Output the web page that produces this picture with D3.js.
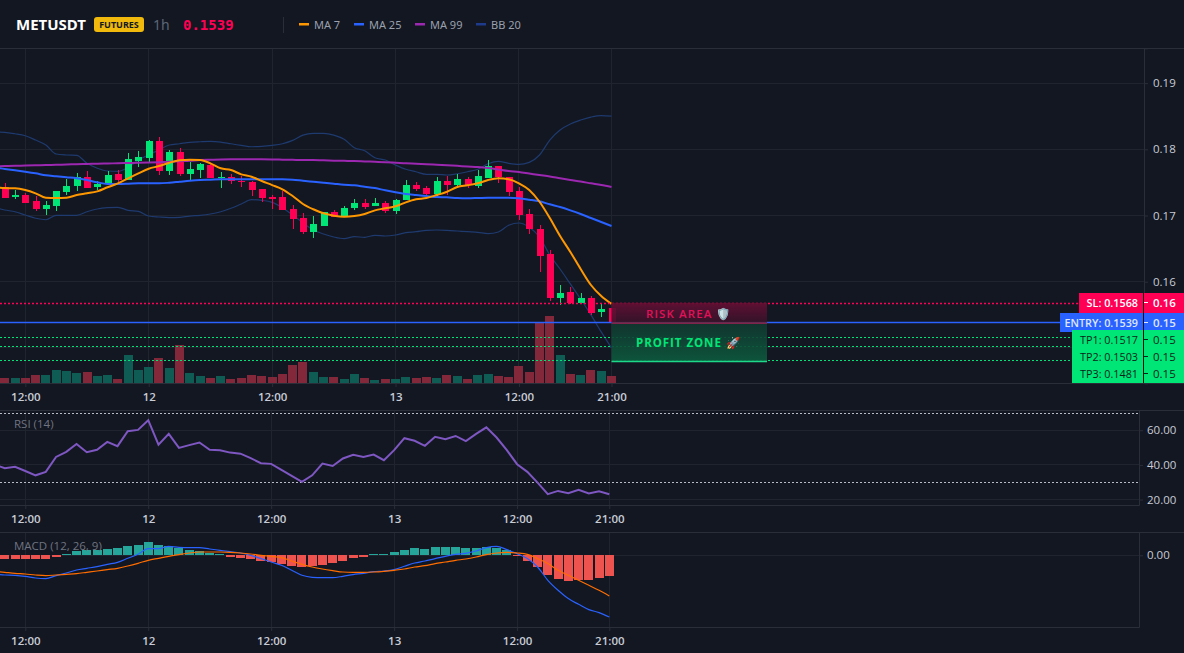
<!DOCTYPE html>
<html>
<head>
<meta charset="utf-8">
<script src="https://cdn.jsdelivr.net/npm/d3@7"></script>
<style>
  html, body { margin: 0; padding: 0; background: #131722; overflow: hidden; }
  svg { display: block; font-family: 'Noto Sans', sans-serif; }
</style>
</head>
<body>
<script>
// hourly candles (the first one sits just off the left edge)
const open = [.17420,.17426,.17279,.17309,.17219,.17098,.17143,.17355,.17445,.17581,.17430,.17476,.17627,.17536,.17823,.17868,.18125,.17672,.17959,.17627,.17687,.17762,.17566,.17581,.17521,.17506,.17400,.17279,.17279,.17098,.16962,.16751,.16841,.17053,.16992,.17113,.17189,.17143,.17189,.17068,.17234,.17460,.17415,.17325,.17521,.17460,.17551,.17445,.17566,.17747,.17581,.17370,.17023,.16796,.16419,.15754,.15845,.15679,.15754,.15543,.15603];
const high = [.17520,.17495,.17385,.17344,.17294,.17219,.17370,.17551,.17642,.17672,.17521,.17672,.17687,.17944,.17974,.18140,.18185,.17989,.18019,.17808,.17793,.17778,.17657,.17627,.17596,.17521,.17400,.17309,.17370,.17159,.17038,.16992,.17053,.17083,.17143,.17249,.17249,.17264,.17219,.17249,.17536,.17506,.17445,.17581,.17596,.17627,.17581,.17687,.17838,.17747,.17581,.17430,.17098,.16857,.16479,.15950,.15920,.15830,.15784,.15679,.15603];
const low = [.17380,.17264,.17249,.17189,.17068,.17008,.17068,.17309,.17370,.17415,.17385,.17460,.17506,.17536,.17732,.17808,.17612,.17612,.17596,.17536,.17566,.17566,.17415,.17476,.17430,.17294,.17204,.17098,.17083,.16796,.16721,.16660,.16841,.16977,.16992,.17083,.17098,.17143,.17038,.17023,.17234,.17370,.17294,.17294,.17309,.17445,.17415,.17415,.17566,.17491,.17294,.16932,.16721,.16147,.15709,.15649,.15664,.15679,.15498,.15467,.15390];
const close = [.17440,.17264,.17309,.17189,.17098,.17159,.17370,.17445,.17581,.17415,.17476,.17612,.17536,.17853,.17883,.18125,.17672,.17959,.17627,.17702,.17778,.17566,.17581,.17521,.17506,.17385,.17264,.17249,.17083,.16947,.16751,.16872,.17053,.16977,.17113,.17189,.17128,.17189,.17068,.17234,.17460,.17400,.17325,.17521,.17460,.17551,.17460,.17596,.17747,.17581,.17355,.17008,.16796,.16388,.15754,.15830,.15679,.15754,.15528,.15588,.15390];
const volume = [53,53,53,53,83,83,133,123,103,113,73,83,43,283,133,163,253,153,383,103,73,53,73,43,53,83,73,63,93,183,213,113,63,63,43,93,53,33,43,43,63,53,63,53,83,73,43,83,93,73,63,173,113,610,670,280,90,80,130,120,70];

const ma7 = [.17423,.17415,.17411,.17385,.17335,.17269,.17264,.17269,.17309,.17335,.17365,.17426,.17486,.17562,.17637,.17707,.17747,.17797,.17833,.17842,.17838,.17788,.17713,.17687,.17622,.17586,.17521,.17460,.17396,.17294,.17174,.17094,.17033,.16997,.16982,.16992,.17023,.17078,.17109,.17139,.17199,.17245,.17264,.17309,.17359,.17430,.17456,.17486,.17536,.17562,.17547,.17486,.17385,.17208,.16962,.16690,.16449,.16192,.15950,.15784,.15664];
const ma25 = [.17725,.17702,.17682,.17661,.17637,.17607,.17592,.17577,.17562,.17536,.17501,.17476,.17476,.17480,.17486,.17486,.17486,.17495,.17510,.17525,.17536,.17541,.17547,.17547,.17547,.17547,.17547,.17547,.17547,.17541,.17525,.17510,.17495,.17480,.17465,.17456,.17435,.17415,.17380,.17350,.17325,.17309,.17294,.17279,.17275,.17264,.17260,.17264,.17269,.17269,.17269,.17260,.17239,.17214,.17169,.17128,.17078,.17023,.16962,.16902,.16841];
const ma99 = [.17744,.17747,.17750,.17755,.17759,.17762,.17767,.17770,.17775,.17778,.17782,.17785,.17790,.17793,.17796,.17800,.17805,.17812,.17820,.17827,.17838,.17842,.17846,.17849,.17850,.17850,.17849,.17847,.17844,.17841,.17838,.17838,.17833,.17829,.17826,.17823,.17817,.17811,.17805,.17797,.17788,.17782,.17775,.17767,.17759,.17750,.17740,.17732,.17717,.17694,.17672,.17657,.17634,.17611,.17589,.17562,.17536,.17513,.17486,.17460,.17430];
const bbUpper = [.18261,.18256,.18235,.18205,.18140,.18065,.17929,.17914,.17909,.17788,.17713,.17672,.17667,.17728,.17838,.17918,.17989,.18065,.18084,.18105,.18114,.18120,.18110,.18084,.18060,.18039,.18045,.18060,.18084,.18135,.18215,.18241,.18241,.18215,.18151,.18024,.17978,.17873,.17838,.17762,.17698,.17661,.17622,.17622,.17612,.17631,.17661,.17698,.17782,.17818,.17788,.17773,.17803,.17914,.18140,.18291,.18382,.18442,.18487,.18510,.18502];
const bbLower = [.17121,.17083,.17057,.17007,.16958,.16936,.17003,.17003,.17003,.17057,.17098,.17118,.17124,.17078,.17063,.16992,.16977,.16967,.16973,.16992,.17003,.17023,.17057,.17109,.17174,.17239,.17229,.17199,.17118,.17007,.16891,.16781,.16721,.16675,.16650,.16680,.16671,.16701,.16690,.16705,.16740,.16755,.16776,.16781,.16776,.16766,.16755,.16746,.16725,.16751,.16852,.16887,.16822,.16675,.16404,.16192,.15966,.15739,.15498,.15241,.14999];

const rsi = [40.2,38.1,38.9,36.5,34.0,36.0,44.6,47.5,52.1,47.3,48.7,53.3,50.8,59.4,60.2,65.8,51.7,57.9,49.8,51.4,52.9,48.7,48.5,47.1,46.5,43.9,41.0,40.6,37.1,33.7,30.2,34.0,40.8,39.4,43.7,45.8,44.6,46.0,42.7,48.5,55.4,53.9,51.0,56.2,54.8,56.7,53.7,57.9,61.7,55.8,48.5,40.4,36.0,29.8,23.1,25.0,23.7,25.6,23.5,24.8,23.1];

const macdHist = [-.0004,-.0004,-.0004,-.0004,-.0004,-.0004,-.0002,.00017,.0004,.0005,.0005,.00063,.0007,.0009,.00103,.0013,.00103,.00093,.0007,.0005,.0004,.0002,.0001,-.0002,-.0003,-.0004,-.0006,-.0007,-.0009,-.0011,-.00115,-.0011,-.001,-.0008,-.0006,-.0003,-.0002,.00013,.00013,.0003,.0005,.0007,.00063,.0008,.0008,.0008,.0007,.0007,.0008,.0007,.0005,-.0001,-.0006,-.0012,-.002,-.0024,-.0026,-.0025,-.0025,-.0023,-.0021];
const macdLine = [-.0019,-.00197,-.002,-.0021,-.00227,-.00233,-.00203,-.00177,-.00147,-.0013,-.00113,-.0009,-.0007,-.0003,.0001,.00067,.00067,.0009,.0008,.00077,.00077,.00063,.0005,.00037,.00023,0,-.00033,-.00067,-.001,-.0015,-.002,-.0022,-.00223,-.00223,-.0021,-.00193,-.0018,-.00163,-.00157,-.00143,-.0011,-.00077,-.00057,-.00033,-.0001,.0001,.0002,.00043,.00077,.0009,.00057,.00017,-.00033,-.00117,-.0025,-.0035,-.00433,-.0049,-.00543,-.00573,-.00617];
const macdSignal = [-.0016,-.0017,-.0018,-.00187,-.00197,-.00203,-.00197,-.0019,-.00183,-.0017,-.00157,-.00143,-.0013,-.00107,-.0008,-.0005,-.0003,-.0001,.00007,.00023,.00033,.00033,.00033,.0003,.00023,.00013,0,-.0001,-.00023,-.00057,-.0009,-.00117,-.00137,-.00153,-.00167,-.0017,-.0017,-.00167,-.0016,-.0015,-.00137,-.00117,-.00103,-.00083,-.00067,-.0005,-.00037,-.00017,.00007,.00023,.0003,.00023,.0001,-.00033,-.00083,-.0015,-.002,-.0025,-.003,-.0035,-.00407];

const timeTicks = [3, 15, 27, 39, 51, 60];
const timeLabels = ['12:00', '12', '12:00', '13', '12:00', '21:00'];
const priceTicks = [0.19, 0.18, 0.17, 0.16, 0.15];
const rsiTicks = [60, 40, 20];
const rsiBands = [70, 30];
const legendNames = ['MA 7', 'MA 25', 'MA 99', 'BB 20'];
const legendColors = ['#ff9800', '#2962ff', '#9c27b0', '#1e3a8a'];

const levelNames = ['SL', 'ENTRY', 'TP1', 'TP2', 'TP3'];
const levelValues = [0.1568, 0.1539, 0.1517, 0.1503, 0.1481];

const WIDTH = 1184, HEIGHT = 653;
const BG = '#131722', GRID = '#20242f', BORDER = '#2a2e39', TEXT = '#c8ccd6';
const UP = '#00e676', DOWN = '#ff0055';
const SANS = "'Open Sans', sans-serif";

const svg = d3.select('body').append('svg')
  .attr('width', WIDTH)
  .attr('height', HEIGHT)
  .attr('viewBox', `0 0 ${WIDTH} ${HEIGHT}`);

svg.append('rect').attr('width', WIDTH).attr('height', HEIGHT).attr('fill', BG);

const defs = svg.append('defs');
function gradient(id, color, a, b) {
  const g = defs.append('linearGradient').attr('id', id).attr('x1', 0).attr('y1', 0).attr('x2', 0).attr('y2', 1);
  g.append('stop').attr('offset', '0%').attr('stop-color', color).attr('stop-opacity', a);
  g.append('stop').attr('offset', '100%').attr('stop-color', color).attr('stop-opacity', b);
}
gradient('riskFill', DOWN, 0.32, 0.14);
gradient('profitFill', UP, 0.14, 0.3);

const idx = d3.range(open.length);

// scales
const xMain = d3.scaleLinear().domain([3, 60]).range([25.3, 611.5]);
const xSub = d3.scaleLinear().domain([3, 60]).range([25.3, 609.3]);
const yPrice = d3.scaleLinear().domain([0.14465, 0.19526]).range([383.3, 48.3]);
const yVolume = d3.scaleLinear().domain([0, 670]).range([383.3, 316.3]);
const yRsi = d3.scaleLinear().domain([16.7, 71.5]).range([505.3, 410.3]);
const yMacd = d3.scaleLinear().domain([-0.0072, 0.00233]).range([627.3, 532]);

// pane frames and grid
function drawGrid(x, y, ticks, top, bottom, right) {
  const g = svg.append('g').attr('shape-rendering', 'crispEdges');
  g.selectAll('.v').data(timeTicks).join('line')
    .attr('x1', d => x(d)).attr('x2', d => x(d))
    .attr('y1', top).attr('y2', bottom)
    .attr('stroke', GRID);
  g.selectAll('.h').data(ticks).join('line')
    .attr('x1', 0).attr('x2', right)
    .attr('y1', d => y(d)).attr('y2', d => y(d))
    .attr('stroke', GRID);
}
drawGrid(xMain, yPrice, priceTicks, 48, 383, 1144);
drawGrid(xSub, yRsi, rsiTicks, 410, 505, 1139);
drawGrid(xSub, yMacd, [0], 532, 627, 1139);

function drawTimeAxis(x, yPos, tickLen) {
  const axis = d3.axisBottom(x)
    .tickValues(timeTicks)
    .tickFormat((d, i) => timeLabels[i])
    .tickSize(tickLen)
    .tickPadding(6);
  const g = svg.append('g')
    .attr('transform', `translate(0, ${yPos})`)
    .call(axis);
  g.select('.domain').remove();
  g.selectAll('line').attr('stroke', BORDER);
  g.selectAll('text')
    .attr('fill', TEXT)
    .attr('font-size', 11.5)
    .attr('font-weight', 600)
    .attr('font-family', SANS);
}
drawTimeAxis(xMain, 383, 4);
drawTimeAxis(xSub, 505, 4);
drawTimeAxis(xSub, 627, 4);

// volume
svg.append('g').attr('shape-rendering', 'crispEdges')
  .selectAll('rect').data(idx).join('rect')
  .attr('x', i => xMain(i) - 4.5)
  .attr('width', 9)
  .attr('y', i => yVolume(volume[i]))
  .attr('height', i => yVolume(0) - yVolume(volume[i]))
  .attr('fill', i => close[i] >= open[i] ? '#0e5c54' : '#82283a');

// indicators on the price pane
const priceLine = d3.line().x(i => xMain(i)).curve(d3.curveMonotoneX);
function drawPriceLine(values, color, width) {
  svg.append('path')
    .datum(idx)
    .attr('fill', 'none')
    .attr('stroke', color)
    .attr('stroke-width', width)
    .attr('d', priceLine.y(i => yPrice(values[i])));
}
drawPriceLine(bbUpper, '#1e3a6e', 1.2);
drawPriceLine(bbLower, '#1e3a6e', 1.2);

// candles
const candles = svg.append('g').selectAll('g').data(idx).join('g').attr('shape-rendering', 'crispEdges');
candles.append('line')
  .attr('x1', i => Math.round(xMain(i)) + 0.5).attr('x2', i => Math.round(xMain(i)) + 0.5)
  .attr('y1', i => yPrice(high[i])).attr('y2', i => yPrice(low[i]))
  .attr('stroke', i => close[i] >= open[i] ? UP : DOWN);
candles.append('rect')
  .attr('x', i => Math.round(xMain(i)) - 3)
  .attr('width', 7)
  .attr('y', i => yPrice(Math.max(open[i], close[i])))
  .attr('height', i => Math.max(1, Math.abs(yPrice(open[i]) - yPrice(close[i]))))
  .attr('fill', i => close[i] >= open[i] ? UP : DOWN);

drawPriceLine(ma99, '#9c27b0', 2);
drawPriceLine(ma25, '#2962ff', 2);
drawPriceLine(ma7, '#ff9800', 2);

// trade levels
const levelColors = [DOWN, '#2962ff', UP, UP, UP];
const tagLeft = [1079, 1060, 1072, 1072, 1072];
svg.append('g').selectAll('line').data(levelValues).join('line')
  .attr('x1', 0)
  .attr('x2', (d, i) => tagLeft[i])
  .attr('y1', d => Math.round(yPrice(d)) + 0.5)
  .attr('y2', d => Math.round(yPrice(d)) + 0.5)
  .attr('stroke', (d, i) => levelColors[i])
  .attr('stroke-width', (d, i) => i < 2 ? 1.6 : 1)
  .attr('stroke-dasharray', (d, i) => i === 1 ? null : '2 2');

// risk and profit boxes
const zoneLeft = xMain(60), zoneRight = 767;
const ySl = yPrice(levelValues[0]), yEntry = yPrice(levelValues[1]), yTp3 = yPrice(levelValues[4]);
svg.append('rect')
  .attr('x', zoneLeft).attr('y', ySl).attr('width', zoneRight - zoneLeft).attr('height', yTp3 - ySl + 1)
  .attr('fill', BG).attr('opacity', 0.88);
svg.append('rect')
  .attr('x', zoneLeft).attr('y', ySl).attr('width', zoneRight - zoneLeft).attr('height', yEntry - ySl)
  .attr('fill', 'url(#riskFill)');
svg.append('rect')
  .attr('x', zoneLeft).attr('y', yEntry).attr('width', zoneRight - zoneLeft).attr('height', yTp3 - yEntry + 1)
  .attr('fill', 'url(#profitFill)');
svg.append('line')
  .attr('x1', zoneLeft).attr('x2', zoneRight).attr('y1', yEntry + 1).attr('y2', yEntry + 1)
  .attr('stroke', '#d4185f').attr('stroke-width', 1);
svg.append('line')
  .attr('x1', zoneLeft).attr('x2', zoneRight).attr('y1', yTp3 + 1).attr('y2', yTp3 + 1)
  .attr('stroke', '#1fd98a').attr('stroke-width', 1.5);

svg.append('text')
  .attr('x', 646).attr('y', 317.5)
  .attr('fill', '#e0125a').attr('font-size', 11.5).attr('font-weight', 600).attr('letter-spacing', 1.1)
  .attr('font-family', SANS)
  .text('RISK AREA 🛡️');
svg.append('text')
  .attr('x', 636).attr('y', 347)
  .attr('fill', UP).attr('font-size', 11.5).attr('font-weight', 700).attr('letter-spacing', 0.95)
  .attr('font-family', SANS)
  .text('PROFIT ZONE 🚀');

// main price axis
const priceAxis = d3.axisRight(yPrice)
  .tickValues([0.19, 0.18, 0.17, 0.16])
  .tickFormat(d3.format('.2f'))
  .tickSize(4)
  .tickPadding(5);
const priceG = svg.append('g').attr('transform', 'translate(1144, 0)').call(priceAxis);
priceG.select('.domain').attr('stroke', BORDER);
priceG.selectAll('line').attr('stroke', BORDER);
priceG.selectAll('text').attr('fill', TEXT).attr('font-size', 11.5).attr('font-family', SANS);

// level tags on the axis
const tagTop = [293, 313, 330, 347, 364];
const tagHeight = [19.5, 19, 17, 17, 19];
const tagText = ['#ffffff', '#dfe6ff', '#06251a', '#06251a', '#06251a'];
const tags = svg.append('g').selectAll('g').data(levelValues).join('g');
tags.append('rect')
  .attr('shape-rendering', 'crispEdges')
  .attr('x', (d, i) => tagLeft[i]).attr('y', (d, i) => tagTop[i])
  .attr('width', (d, i) => 1184 - tagLeft[i]).attr('height', (d, i) => tagHeight[i])
  .attr('fill', (d, i) => levelColors[i]);
tags.append('line')
  .attr('shape-rendering', 'crispEdges')
  .attr('x1', 1143.5).attr('x2', 1143.5)
  .attr('y1', (d, i) => tagTop[i]).attr('y2', (d, i) => tagTop[i] + tagHeight[i])
  .attr('stroke', '#0b0e14');
tags.append('line')
  .attr('shape-rendering', 'crispEdges')
  .attr('x1', 1144).attr('x2', 1148)
  .attr('y1', (d, i) => tagTop[i] + 9.5).attr('y2', (d, i) => tagTop[i] + 9.5)
  .attr('stroke', (d, i) => tagText[i]);
tags.append('text')
  .attr('x', 1138).attr('y', (d, i) => tagTop[i] + 13.5)
  .attr('text-anchor', 'end').attr('font-size', 10.8).attr('font-weight', (d, i) => i < 2 ? 600 : 400)
  .attr('font-family', SANS)
  .attr('fill', (d, i) => tagText[i])
  .text((d, i) => `${levelNames[i]}: ${d.toFixed(4)}`);
tags.append('text')
  .attr('x', 1153).attr('y', (d, i) => tagTop[i] + 13.5)
  .attr('font-size', 11.5).attr('font-weight', (d, i) => i < 2 ? 600 : 400)
  .attr('font-family', SANS)
  .attr('fill', (d, i) => tagText[i])
  .text(d => d.toFixed(2));

// RSI pane
svg.append('g').selectAll('line').data(rsiBands).join('line')
  .attr('x1', 0).attr('x2', 1139)
  .attr('y1', d => Math.round(yRsi(d)) + 0.5).attr('y2', d => Math.round(yRsi(d)) + 0.5)
  .attr('stroke', '#b8bcc6').attr('stroke-dasharray', '2 2');
svg.append('path')
  .datum(idx)
  .attr('fill', 'none').attr('stroke', '#7e57c2').attr('stroke-width', 2)
  .attr('d', d3.line().x(i => xSub(i)).y(i => yRsi(rsi[i])));
svg.append('text').attr('x', 14).attr('y', 428)
  .attr('fill', '#6f7480').attr('font-size', 11.5).attr('font-family', SANS).text('RSI (14)');

// MACD pane
svg.append('g').attr('shape-rendering', 'crispEdges')
  .selectAll('rect').data(idx).join('rect')
  .attr('x', i => xSub(i) - 4.5)
  .attr('width', 9)
  .attr('y', i => Math.min(yMacd(0), yMacd(macdHist[i])))
  .attr('height', i => Math.abs(yMacd(macdHist[i]) - yMacd(0)))
  .attr('fill', i => macdHist[i] >= 0 ? '#26a69a' : '#ef5350');
const macdPath = d3.line().x(i => xSub(i)).curve(d3.curveMonotoneX);
svg.append('path').datum(idx).attr('fill', 'none').attr('stroke', '#2962ff').attr('stroke-width', 1.2)
  .attr('d', macdPath.y(i => yMacd(macdLine[i])));
svg.append('path').datum(idx).attr('fill', 'none').attr('stroke', '#ff6d00').attr('stroke-width', 1.2)
  .attr('d', macdPath.y(i => yMacd(macdSignal[i])));
svg.append('text').attr('x', 14).attr('y', 550)
  .attr('fill', '#6f7480').attr('font-size', 11.5).attr('font-family', SANS).text('MACD (12, 26, 9)');

// sub pane axes
function drawSubAxis(y, ticks, fmt) {
  const g = svg.append('g').attr('transform', 'translate(1139, 0)')
    .call(d3.axisRight(y).tickValues(ticks).tickFormat(fmt).tickSize(4).tickPadding(4).tickSizeOuter(0));
  g.select('.domain').attr('stroke', BORDER);
  g.selectAll('line').attr('stroke', BORDER);
  g.selectAll('text').attr('fill', TEXT).attr('font-size', 11.5).attr('font-family', SANS);
}
drawSubAxis(yRsi, rsiTicks, d3.format('.2f'));
drawSubAxis(yMacd, [0], d3.format('.2f'));

// pane borders
const borders = svg.append('g').attr('shape-rendering', 'crispEdges').attr('stroke', BORDER);
[[48, 1184], [383, 1184], [410, 1184], [505, 1139], [532, 1184], [627, 1139]].forEach(([y, x2]) => {
  borders.append('line').attr('x1', 0).attr('x2', x2).attr('y1', y + 0.5).attr('y2', y + 0.5);
});

// header
const header = svg.append('g');
header.append('text').attr('x', 16).attr('y', 30)
  .attr('fill', '#ffffff').attr('font-size', 15).attr('font-weight', 700).text('METUSDT');
header.append('rect').attr('x', 94).attr('y', 17).attr('width', 50).attr('height', 15).attr('rx', 3).attr('fill', '#f0b90b');
header.append('text').attr('x', 119).attr('y', 28.3).attr('text-anchor', 'middle')
  .attr('fill', '#131722').attr('font-size', 9).attr('font-weight', 700).text('FUTURES');
header.append('text').attr('x', 153).attr('y', 30)
  .attr('fill', '#5d6675').attr('font-size', 14).text('1h');
header.append('text').attr('x', 183).attr('y', 30)
  .attr('fill', DOWN).attr('font-size', 14).attr('font-weight', 700)
  .attr('font-family', "'DejaVu Sans Mono', monospace").text(close[close.length - 1].toFixed(4));
header.append('line').attr('x1', 283.5).attr('x2', 283.5).attr('y1', 17).attr('y2', 33).attr('stroke', BORDER);

const legendX = d3.scaleOrdinal().domain(legendNames).range([299, 354, 415, 476]);
const legend = header.selectAll('.legend').data(legendNames).join('g');
legend.append('rect')
  .attr('x', d => legendX(d)).attr('y', 23).attr('width', 10).attr('height', 2.5)
  .attr('fill', (d, i) => legendColors[i]);
legend.append('text')
  .attr('x', d => legendX(d) + 15).attr('y', 28.5)
  .attr('fill', '#9aa0ad').attr('font-size', 11)
  .text(d => d);
</script>
</body>
</html>
